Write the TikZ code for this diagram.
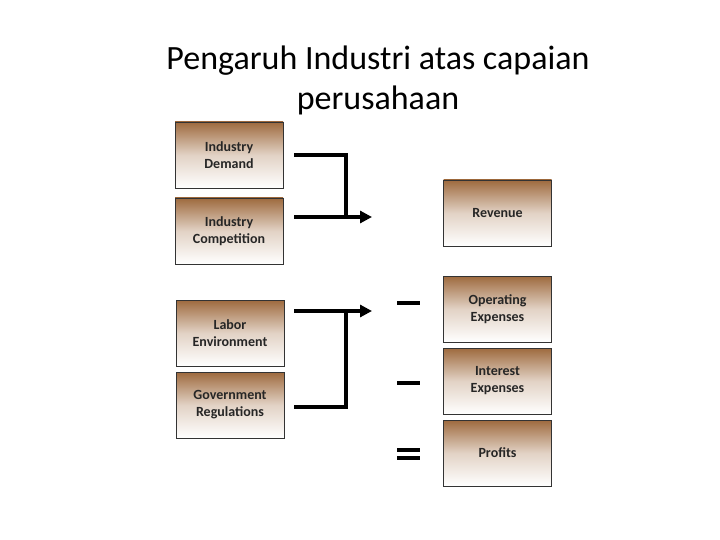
\documentclass[tikz,border=0pt]{standalone}
\usepackage{fontspec}
\setmainfont{Carlito}
\usetikzlibrary{arrows.meta}
\definecolor{brn}{RGB}{158,106,62}
\tikzset{
  box/.style={draw=black!80, line width=0.8pt, top color=brn, bottom color=white, middle color=white!70!brn,
    minimum width=108pt, minimum height=66pt, align=center, font=\fontsize{14}{17}\selectfont\bfseries, text=black!85},
  conn/.style={line width=4pt},
  arr/.style={conn, -{Triangle[length=12pt,width=12pt]}},
  op/.style={line width=3.5pt}
}
\begin{document}
\begin{tikzpicture}[x=1pt,y=-1pt]
\useasboundingbox (0,0) rectangle (720,540);
\node[font=\fontsize{34}{40}\selectfont, align=center] (title) at (378,80) {Pengaruh Industri atas capaian\\perusahaan};
\node[box] (dem) at (229,155) {Industry\\Demand};
\node[box] (comp) at (229,231) {Industry\\Competition};
\node[box] (lab) at (230,333) {Labor\\Environment};
\node[box] (gov) at (230,405) {Government\\Regulations};
\node[box] (rev) at (497.5,213) {Revenue};
\node[box] (opx) at (497.5,309) {Operating\\Expenses};
\node[box] (int) at (497.5,381) {Interest\\Expenses};
\node[box] (pro) at (497.5,453) {Profits};
\coordinate (a1) at (372,217);
\coordinate (a2) at (372,311);
\draw[conn] (294,155) -| (346,217);
\draw[arr] (294,217) -- (a1);
\draw[arr] (294,311) -- (a2);
\draw[conn] (294,407) -| (346,311);
\draw[op] (397,303) -- (420,303);
\draw[op] (397,383) -- (420,383);
\draw[op] (397,450) -- (420,450);
\draw[op] (397,458) -- (420,458);
\end{tikzpicture}
\end{document}
